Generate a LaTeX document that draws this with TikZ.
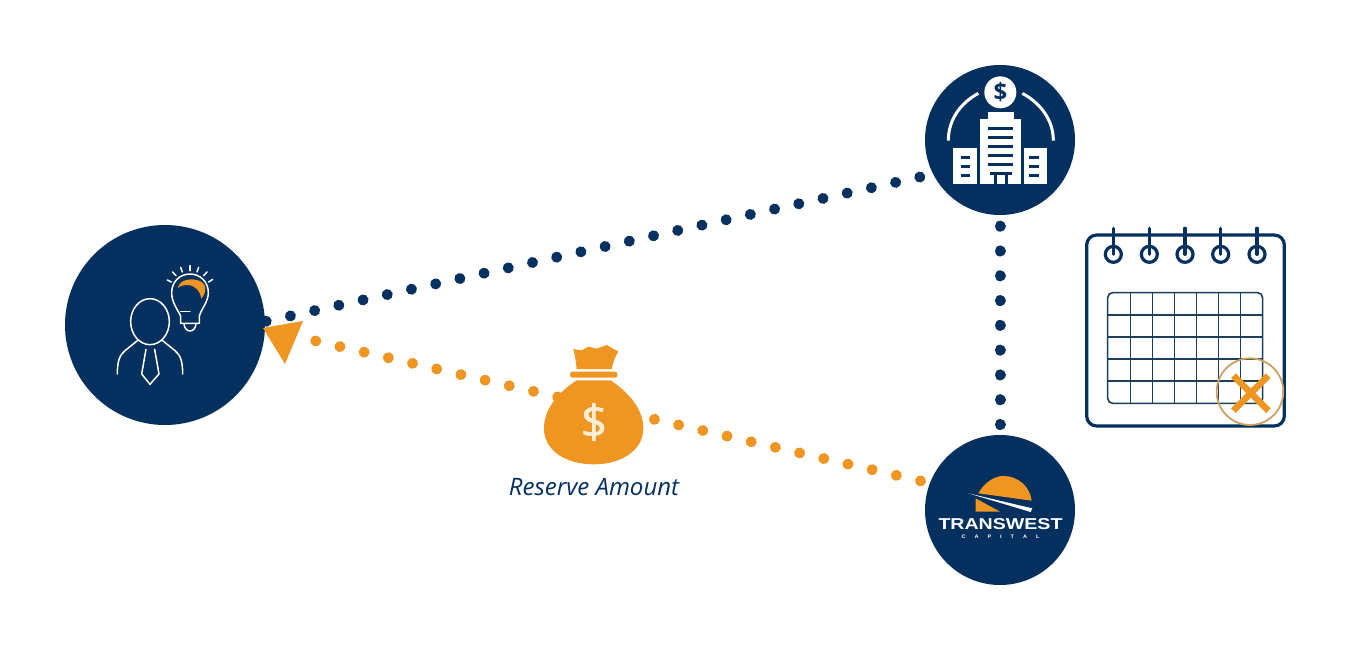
\documentclass[tikz,border=0pt]{standalone}
\usepackage{graphicx}
\usepackage{fontspec}
\setmainfont{Open Sans}
\newfontfamily\logofont{Liberation Sans}
\newfontfamily\bagfont[FakeBold=1.3]{Open Sans}
\definecolor{navy}{HTML}{03305F}
\definecolor{gold}{HTML}{EE9522}
\definecolor{tan}{HTML}{CBA263}
\definecolor{gridc}{HTML}{1E3F5C}
\definecolor{cream}{HTML}{FDEFD5}
\tikzset{
  disc/.style={circle,fill=navy,inner sep=0pt,minimum size=150pt},
  dotnavy/.style={navy,line width=11pt,line cap=round,dash pattern=on 0.01pt off 24.78pt},
  dotgold/.style={gold,line width=11pt,line cap=round,dash pattern=on 0.01pt off 24.82pt},
  iconline/.style={white,line width=1.5pt,line cap=round,line join=round},
  calline/.style={navy,line width=3.2pt,line cap=round},
  gridline/.style={gridc,line width=1.6pt}
}
\begin{document}
\begin{tikzpicture}[x=1pt,y=-1pt]
\useasboundingbox (0,0) rectangle (1350,650);
\fill[white] (0,0) rectangle (1350,650);

% main discs
\node[disc,minimum size=200pt] (client) at (165,325) {};
\node[disc] (bank) at (1000,140) {};
\node[disc] (tw) at (1000,510) {};
\coordinate (goldend) at (312,340.1);

% connectors
\draw[dotnavy,shorten <=13.5pt] (bank.207) -- (client.2);
\draw[dotnavy,shorten <=11pt,shorten >=10pt] (bank.south) -- (tw.north);
\draw[dotgold,shorten <=9.5pt] (tw.159) -- (goldend);
\fill[gold] (263,328) -- (303,321) -- (285,364) -- cycle;

% person icon
\begin{scope}[shift={(60,220)},scale=0.33333]
  \draw[iconline] (270,305) ellipse [x radius=58,y radius=69];
  \draw[iconline] (232,362) -- (195,392) .. controls (180,405) and (172,420) .. (172,462);
  \draw[iconline] (308,362) -- (345,392) .. controls (360,405) and (368,420) .. (368,462);
  \draw[iconline] (258,388) -- (245,462) -- (270,493) -- (297,462) -- (284,388);
  % bulb
  \draw[iconline] (362,275) -- (390,275);
  \draw[iconline] (362,310) -- (362,288) .. controls (350,265) and (335,245) .. (335,218)
     .. controls (335,185) and (360,162) .. (390,162)
     .. controls (420,162) and (445,185) .. (445,218)
     .. controls (445,245) and (425,265) .. (418,288) -- (418,310) -- cycle;
  \draw[iconline] (372,312) .. controls (375,340) and (405,340) .. (408,312);
  \foreach \xa/\ya/\xb/\yb in {322/180/334/186, 338/156/348/167, 362/142/367/156, 390/137/390/152, 416/142/411/156, 441/156/431/167, 458/178/446/186}
    \draw[iconline] (\xa,\ya) -- (\xb,\yb);
  \fill[gold] (352,205) .. controls (358,188) and (372,178) .. (392,178)
     .. controls (420,178) and (438,190) .. (436,208)
     .. controls (434,222) and (430,230) .. (424,236)
     .. controls (422,215) and (408,198) .. (385,195)
     .. controls (372,194) and (360,198) .. (352,205) -- cycle;
\end{scope}

% bank icon
\begin{scope}[shift={(915,60)},scale=0.33333]
  \fill[white] (256,97) circle [radius=48];
  \draw[white,line width=3pt] (190,100) .. controls (135,130) and (100,180) .. (100,242);
  \draw[white,line width=3pt] (322,100) .. controls (377,130) and (415,180) .. (415,242);
  \fill[white] (220,155) rectangle (296,185);
  \fill[white] (196,178) rectangle (318,373);
  \foreach \y in {205,232,259,286,313}
    \fill[navy] (220,\y-5) rectangle (295,\y+5);
  \fill[navy] (225,337) rectangle (290,346);
  \fill[navy] (237,346) rectangle (245,373);
  \fill[navy] (270,346) rectangle (278,373);
  \fill[white] (115,265) rectangle (187,373);
  \fill[white] (328,265) rectangle (395,373);
  \foreach \y in {292,320,347} {
    \fill[navy] (137,\y-5) rectangle (165,\y+5);
    \fill[navy] (343,\y-5) rectangle (372,\y+5);
  }
\end{scope}
\node[font=\bfseries\fontsize{24}{24}\selectfont,text=navy,inner sep=0pt] (dollar) at (1000.5,92) {\$};

% logo
\begin{scope}[shift={(915,430)},scale=0.33333]
  \fill[gold] (190,190) .. controls (210,155) and (240,138) .. (265,138)
     .. controls (310,138) and (345,170) .. (350,212) -- cycle;
  \fill[gold] (182,205) -- (182,245) -- (255,245) -- cycle;
  \fill[white] (160,190) -- (352,235) -- (347,246) -- cycle;
\end{scope}
\node[inner sep=0pt,text=white] (twname) at (1000.5,524.5) {\resizebox{124pt}{11pt}{\logofont\bfseries TRANSWEST}};
\node[inner sep=0pt,text=white] (twsub) at (1000.5,537) {\resizebox{78pt}{3.5pt}{\logofont\bfseries C\hspace{1.6em}A\hspace{1.6em}P\hspace{1.6em}I\hspace{1.6em}T\hspace{1.6em}A\hspace{1.6em}L}};

% calendar
\begin{scope}[shift={(1075,220)},scale=0.33333]
  \draw[calline,rounded corners=10pt] (35,45) rectangle (628,618);
  \foreach \x in {115,223,330,437,546} {
    \draw[calline] (\x,25) -- (\x,103);
    \draw[calline] (\x,103) circle [radius=24];
  }
  \draw[gridline,rounded corners=5pt] (98,218) rectangle (563,550);
  \foreach \x in {166,232,298,364,430,496}
    \draw[gridline] (\x,218) -- (\x,550);
  \foreach \y in {285,351,417,483}
    \draw[gridline] (98,\y) -- (563,\y);
  \draw[tan,line width=1.8pt] (525,515) circle [radius=100];
  \draw[gold,line width=6.5pt] (475,467) -- (580,572);
  \draw[gold,line width=6.5pt] (580,467) -- (475,572);
\end{scope}

% money bag
\begin{scope}[shift={(500,335)},scale=0.33333]
  \fill[gold] (220,42) -- (245,46) -- (265,35) -- (290,41) -- (320,30) -- (355,50)
     .. controls (345,65) and (338,85) .. (335,102) -- (230,102)
     .. controls (228,80) and (225,60) .. (220,42) -- cycle;
  \fill[gold,rounded corners=2.5pt] (210,110) rectangle (352,128);
  \fill[gold] (230,136) -- (332,136)
     .. controls (375,165) and (430,215) .. (430,280)
     .. controls (430,345) and (365,388) .. (282,388)
     .. controls (195,388) and (132,345) .. (132,280)
     .. controls (132,215) and (185,165) .. (230,136) -- cycle;
\end{scope}
\node[font=\bagfont\fontsize{46}{46}\selectfont,text=cream,inner sep=0pt] (bagdollar) at (594,422) {\$};
\node[font=\itshape\fontsize{24}{24}\selectfont,text=navy,inner sep=0pt] (reserve) at (594,487) {Reserve Amount};
\end{tikzpicture}
\end{document}
